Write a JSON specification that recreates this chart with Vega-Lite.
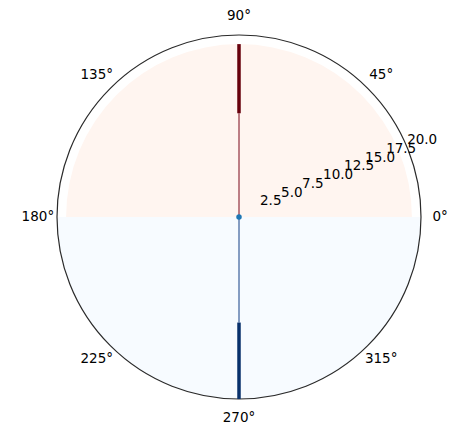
{
  "$schema": "https://vega.github.io/schema/vega-lite/v6.json",
  "width": 364,
  "height": 364,
  "autosize": {"type": "none"},
  "padding": {"left": 57, "top": 35, "right": 53, "bottom": 39},
  "config": {"view": {"stroke": null}, "font": "DejaVu Sans"},
  "resolve": {"scale": {"stroke": "independent", "color": "independent"}},
  "layer": [
    {
      "data": {"values": [
        {"half": "upper", "start": 0, "end": 180, "r": 19},
        {"half": "lower", "start": 180, "end": 360, "r": 20}
      ]},
      "mark": {"type": "arc"},
      "encoding": {
        "theta": {"field": "start", "type": "quantitative", "stack": null,
          "scale": {"domain": [0, 360], "range": [1.5708, -4.7124]}},
        "theta2": {"field": "end"},
        "radius": {"field": "r", "type": "quantitative",
          "scale": {"type": "linear", "domain": [0, 20], "range": [0, 182], "zero": true}},
        "color": {"field": "half", "type": "nominal", "legend": null,
          "scale": {"domain": ["upper", "lower"], "range": ["#fff5f0", "#f7fbff"]}}
      }
    },
    {
      "data": {"values": [{"start": 0, "end": 360, "r": 20}]},
      "mark": {"type": "arc", "fill": "transparent", "stroke": "#2a2a2a", "strokeWidth": 1.2},
      "encoding": {
        "theta": {"field": "start", "type": "quantitative", "stack": null},
        "theta2": {"field": "end"},
        "radius": {"field": "r", "type": "quantitative"}
      }
    },
    {
      "data": {"values": [
        {"from": 0, "to": 11.4}
      ]},
      "mark": {"type": "rule", "strokeWidth": 1, "color": "#7a0618"},
      "encoding": {
        "x": {"datum": 0, "type": "quantitative",
          "scale": {"domain": [-20, 20], "nice": false, "zero": false}, "axis": null},
        "y": {"field": "from", "type": "quantitative",
          "scale": {"domain": [-20, 20], "nice": false, "zero": false}, "axis": null},
        "y2": {"field": "to"}
      }
    },
    {
      "data": {"values": [
        {"from": 0, "to": -11.6}
      ]},
      "mark": {"type": "rule", "strokeWidth": 1, "color": "#123f85"},
      "encoding": {
        "x": {"datum": 0, "type": "quantitative"},
        "y": {"field": "from", "type": "quantitative"},
        "y2": {"field": "to"}
      }
    },
    {
      "data": {"values": [
        {"from": 11.4, "to": 19}
      ]},
      "mark": {"type": "rule", "strokeWidth": 3.5, "color": "#67000d"},
      "encoding": {
        "x": {"datum": 0, "type": "quantitative"},
        "y": {"field": "from", "type": "quantitative"},
        "y2": {"field": "to"}
      }
    },
    {
      "data": {"values": [
        {"from": -11.6, "to": -20}
      ]},
      "mark": {"type": "rule", "strokeWidth": 3.5, "color": "#08306b"},
      "encoding": {
        "x": {"datum": 0, "type": "quantitative"},
        "y": {"field": "from", "type": "quantitative"},
        "y2": {"field": "to"}
      }
    },
    {
      "data": {"values": [{"px": 0, "py": 0}]},
      "mark": {"type": "point", "filled": true, "color": "#1f77b4", "size": 30, "opacity": 1},
      "encoding": {
        "x": {"field": "px", "type": "quantitative"},
        "y": {"field": "py", "type": "quantitative"}
      }
    },
    {
      "data": {"values": [
        {"r": 2.5, "label": "2.5"},
        {"r": 5, "label": "5.0"},
        {"r": 7.5, "label": "7.5"},
        {"r": 10, "label": "10.0"},
        {"r": 12.5, "label": "12.5"},
        {"r": 15, "label": "15.0"},
        {"r": 17.5, "label": "17.5"},
        {"r": 20, "label": "20.0"}
      ]},
      "mark": {"type": "text", "align": "left", "baseline": "bottom", "fontSize": 13.5, "color": "#000000"},
      "encoding": {
        "theta": {"datum": 22.5, "type": "quantitative"},
        "radius": {"field": "r", "type": "quantitative"},
        "text": {"field": "label"}
      }
    },
    {
      "data": {"values": [
        {"a": 0, "label": "0°"},
        {"a": 45, "label": "45°"},
        {"a": 90, "label": "90°"},
        {"a": 135, "label": "135°"},
        {"a": 180, "label": "180°"},
        {"a": 225, "label": "225°"},
        {"a": 270, "label": "270°"},
        {"a": 315, "label": "315°"}
      ]},
      "mark": {"type": "text", "align": "center", "baseline": "middle", "fontSize": 13.5, "color": "#000000"},
      "encoding": {
        "theta": {"field": "a", "type": "quantitative"},
        "radius": {"datum": 22.1, "type": "quantitative"},
        "text": {"field": "label"}
      }
    }
  ]
}
